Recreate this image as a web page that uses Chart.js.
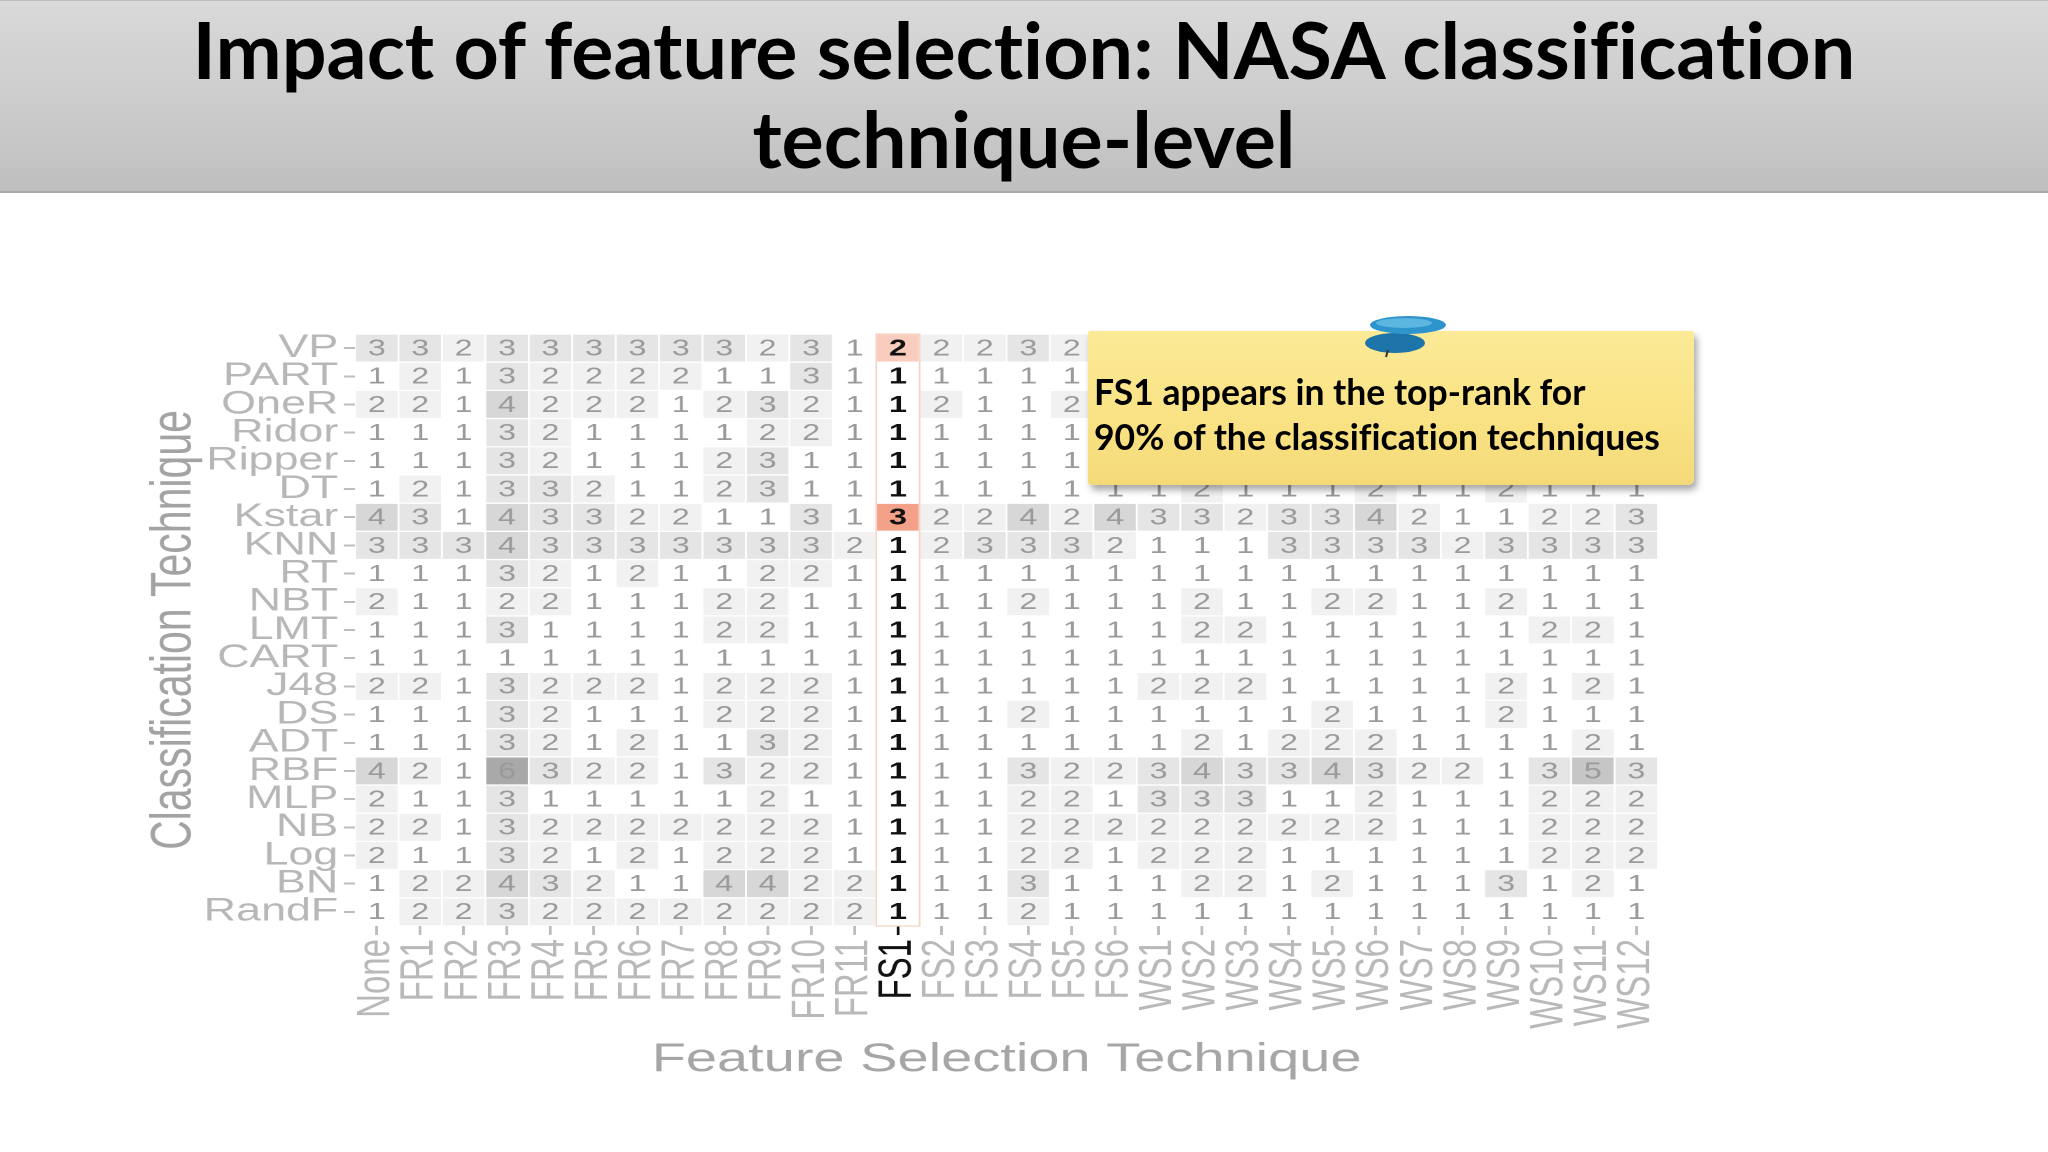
<!DOCTYPE html>
<html>
<head>
<meta charset="utf-8">
<script src="https://cdn.jsdelivr.net/npm/chart.js@4.4.1/dist/chart.umd.min.js"></script>
<style>
html,body{margin:0;padding:0;background:#ffffff;width:2048px;height:1152px;overflow:hidden;}
#titlebar{position:absolute;left:0;top:0;width:2048px;height:190px;
  background:linear-gradient(180deg,#d9d9d9 0%,#cdcdcd 50%,#bfbfbf 100%);
  border-top:1px solid #bdbdbd;border-bottom:2px solid #a8a8a8;}
#title{position:absolute;left:0;top:4px;width:2048px;text-align:center;font-family:Lato,"Open Sans",sans-serif;
  font-weight:bold;color:#000;line-height:89px;font-size:78px;white-space:nowrap;font-variant-ligatures:none;}
#wrap{position:absolute;left:140px;top:300px;width:1100px;height:800px;transform:scaleX(1.4);transform-origin:0 0;}
#note{position:absolute;left:1088px;top:331px;width:606px;height:154px;
  background:linear-gradient(180deg,#fcea97 0%,#f9e283 60%,#f4d978 100%);
  box-shadow:3px 5px 7px rgba(0,0,0,0.35);border-radius:2px 2px 6px 4px;}
#notetext{position:absolute;left:1094px;top:369px;font-family:Lato,"Open Sans",sans-serif;font-weight:bold;color:#000;
  line-height:45px;font-size:35px;white-space:nowrap;font-variant-ligatures:none;}
#pin{position:absolute;left:1350px;top:312px;}
</style>
</head>
<body>
<div id="titlebar"></div>
<div id="title"><span id="t1">Impact of feature selection: NASA classification</span><br><span id="t2">technique-level</span></div>
<div id="wrap"><canvas id="c"></canvas></div>
<div id="note"></div>
<svg id="pin" width="110" height="50" viewBox="0 0 110 50">
  <ellipse cx="45" cy="31" rx="30" ry="10" fill="#1c74a8"/>
  <ellipse cx="58" cy="13" rx="38" ry="9" fill="#2d95cc"/>
  <ellipse cx="54" cy="11" rx="28" ry="5" fill="#5cb6e0"/>
  <line x1="38" y1="38" x2="36" y2="45" stroke="#333" stroke-width="2"/>
</svg>
<div id="notetext"><span id="n1">FS1 appears in the top-rank for</span><br><span id="n2">90% of the classification techniques</span></div>
<script>
// ---- data ----
const rowLabels = ["VP","PART","OneR","Ridor","Ripper","DT","Kstar","KNN","RT","NBT","LMT","CART","J48","DS","ADT","RBF","MLP","NB","Log","BN","RandF"];
const colLabels = ["None","FR1","FR2","FR3","FR4","FR5","FR6","FR7","FR8","FR9","FR10","FR11",
                   "FS1","FS2","FS3","FS4","FS5","FS6",
                   "WS1","WS2","WS3","WS4","WS5","WS6","WS7","WS8","WS9","WS10","WS11","WS12"];
const highlightCol = "FS1";
const yTitle = "Classification Technique";
const xTitle = "Feature Selection Technique";
// ranks per row (None, FR1..FR11, FS1..FS6, WS1..WS12)
const rankVP     = [3,3,2,3,3,3,3,3,3,2,3,1, 2,2,2,3,2,2, 2,2,2,2,2,3,2,1,2,2,2,2];
const rankPART   = [1,2,1,3,2,2,2,2,1,1,3,1, 1,1,1,1,1,1, 1,1,1,1,1,1,1,1,1,1,1,1];
const rankOneR   = [2,2,1,4,2,2,2,1,2,3,2,1, 1,2,1,1,2,1, 2,2,1,1,2,2,1,1,1,2,2,1];
const rankRidor  = [1,1,1,3,2,1,1,1,1,2,2,1, 1,1,1,1,1,1, 1,1,1,1,1,1,1,1,1,1,1,1];
const rankRipper = [1,1,1,3,2,1,1,1,2,3,1,1, 1,1,1,1,1,1, 1,2,1,1,1,1,1,1,1,1,1,1];
const rankDT     = [1,2,1,3,3,2,1,1,2,3,1,1, 1,1,1,1,1,1, 1,2,1,1,1,2,1,1,2,1,1,1];
const rankKstar  = [4,3,1,4,3,3,2,2,1,1,3,1, 3,2,2,4,2,4, 3,3,2,3,3,4,2,1,1,2,2,3];
const rankKNN    = [3,3,3,4,3,3,3,3,3,3,3,2, 1,2,3,3,3,2, 1,1,1,3,3,3,3,2,3,3,3,3];
const rankRT     = [1,1,1,3,2,1,2,1,1,2,2,1, 1,1,1,1,1,1, 1,1,1,1,1,1,1,1,1,1,1,1];
const rankNBT    = [2,1,1,2,2,1,1,1,2,2,1,1, 1,1,1,2,1,1, 1,2,1,1,2,2,1,1,2,1,1,1];
const rankLMT    = [1,1,1,3,1,1,1,1,2,2,1,1, 1,1,1,1,1,1, 1,2,2,1,1,1,1,1,1,2,2,1];
const rankCART   = [1,1,1,1,1,1,1,1,1,1,1,1, 1,1,1,1,1,1, 1,1,1,1,1,1,1,1,1,1,1,1];
const rankJ48    = [2,2,1,3,2,2,2,1,2,2,2,1, 1,1,1,1,1,1, 2,2,2,1,1,1,1,1,2,1,2,1];
const rankDS     = [1,1,1,3,2,1,1,1,2,2,2,1, 1,1,1,2,1,1, 1,1,1,1,2,1,1,1,2,1,1,1];
const rankADT    = [1,1,1,3,2,1,2,1,1,3,2,1, 1,1,1,1,1,1, 1,2,1,2,2,2,1,1,1,1,2,1];
const rankRBF    = [4,2,1,6,3,2,2,1,3,2,2,1, 1,1,1,3,2,2, 3,4,3,3,4,3,2,2,1,3,5,3];
const rankMLP    = [2,1,1,3,1,1,1,1,1,2,1,1, 1,1,1,2,2,1, 3,3,3,1,1,2,1,1,1,2,2,2];
const rankNB     = [2,2,1,3,2,2,2,2,2,2,2,1, 1,1,1,2,2,2, 2,2,2,2,2,2,1,1,1,2,2,2];
const rankLog    = [2,1,1,3,2,1,2,1,2,2,2,1, 1,1,1,2,2,1, 2,2,2,1,1,1,1,1,1,2,2,2];
const rankBN     = [1,2,2,4,3,2,1,1,4,4,2,2, 1,1,1,3,1,1, 1,2,2,1,2,1,1,1,3,1,2,1];
const rankRandF  = [1,2,2,3,2,2,2,2,2,2,2,2, 1,1,1,2,1,1, 1,1,1,1,1,1,1,1,1,1,1,1];
const ranks = [rankVP,rankPART,rankOneR,rankRidor,rankRipper,rankDT,rankKstar,rankKNN,rankRT,rankNBT,
               rankLMT,rankCART,rankJ48,rankDS,rankADT,rankRBF,rankMLP,rankNB,rankLog,rankBN,rankRandF];

// ---- styles ----
const grayFill = {1:"#ffffff",2:"#f1f1f1",3:"#e5e5e5",4:"#d7d7d7",5:"#c6c6c6",6:"#a9a9a9"};
const hiFill = {1:"#ffffff",2:"#f9cdbd",3:"#f4a18a",4:"#ee7f62"};
function fillFor(v, j){ return colLabels[j] === highlightCol ? hiFill[v] : grayFill[v]; }

// fit title / note text widths
function fit(id, spanId, target){
  const el = document.getElementById(id);
  const sp = document.getElementById(spanId);
  const w = sp.getBoundingClientRect().width;
  const fs = parseFloat(getComputedStyle(el).fontSize);
  el.style.fontSize = (fs * target / w) + "px";
}
fit("title","t1",1663);
fit("notetext","n2",566);

const FONT = "'Liberation Sans', Arial, sans-serif";
const hiIndex = colLabels.indexOf(highlightCol);

const cellText = {
  id: "cellText",
  afterDatasetsDraw(chart){
    const {ctx, scales:{x, y}} = chart;
    ctx.save();
    ctx.textAlign = "center";
    ctx.textBaseline = "middle";
    ranks.forEach((row, i) => {
      row.forEach((v, j) => {
        const hi = j === hiIndex;
        ctx.font = (hi ? "bold 23px " : "23px ") + FONT;
        ctx.fillStyle = hi ? "#111111" : "#9a9a9a";
        ctx.fillText(String(v), x.getPixelForValue(j), y.getPixelForValue(i + 0.5) + 1);
      });
    });
    const half = (x.getPixelForValue(1) - x.getPixelForValue(0)) / 2;
    const cx = x.getPixelForValue(hiIndex);
    ctx.strokeStyle = "#f6d3c4";
    ctx.lineWidth = 1.2;
    ctx.strokeRect(cx - half, y.getPixelForValue(0), 2 * half, y.getPixelForValue(rowLabels.length) - y.getPixelForValue(0));
    ctx.restore();
  }
};

const datasets = ranks.map((row, i) => ({
  label: rowLabels[i],
  data: colLabels.map(() => [i, i + 1]),
  backgroundColor: row.map((v, j) => fillFor(v, j)),
  borderColor: "#ffffff",
  borderWidth: 1,
  borderSkipped: false,
  grouped: false,
  barPercentage: 1,
  categoryPercentage: 1
}));

new Chart(document.getElementById("c"), {
  type: "bar",
  data: { labels: colLabels, datasets },
  options: {
    responsive: true,
    maintainAspectRatio: false,
    devicePixelRatio: 2,
    animation: false,
    layout: { padding: { left: 0, right: 15.7, top: 34, bottom: 8 } },
    plugins: { legend: { display: false }, tooltip: { enabled: false } },
    scales: {
      x: {
        type: "category",
        offset: true,
        grid: { display: true, drawOnChartArea: false, offset: false, tickLength: 9,
                tickColor: (c) => c.index === hiIndex ? "#111111" : "#bdbdbd", tickWidth: 2 },
        border: { display: false },
        ticks: { autoSkip: false, maxRotation: 90, minRotation: 90, padding: 4,
                 font: { size: 33, family: FONT },
                 color: (c) => c.index === hiIndex ? "#111111" : "#b9b9b9" },
        title: { display: true, text: xTitle, color: "#a6a6a6", font: { size: 40, family: FONT },
                 padding: { top: 0, bottom: 8 } },
        afterFit(axis){ axis.height = 166; axis.paddingLeft = 0; axis.paddingRight = 0; }
      },
      y: {
        type: "linear",
        reverse: true,
        min: 0,
        max: rowLabels.length,
        afterBuildTicks(axis){ axis.ticks = rowLabels.map((_, i) => ({ value: i + 0.5 })); },
        grid: { display: true, drawOnChartArea: false, tickLength: 8, tickColor: "#bdbdbd", tickWidth: 2 },
        border: { display: false },
        ticks: { autoSkip: false, padding: 4, font: { size: 32, family: FONT }, color: "#b7b7b7",
                 callback: (v, idx) => rowLabels[idx] },
        title: { display: true, text: yTitle, color: "#a3a3a3", font: { size: 41, family: FONT },
                 padding: { top: 0, bottom: 0 } },
        afterFit(axis){ axis.width = 153.6; axis.paddingTop = 0; axis.paddingBottom = 0; }
      }
    }
  },
  plugins: [cellText]
});
</script>
</body>
</html>
